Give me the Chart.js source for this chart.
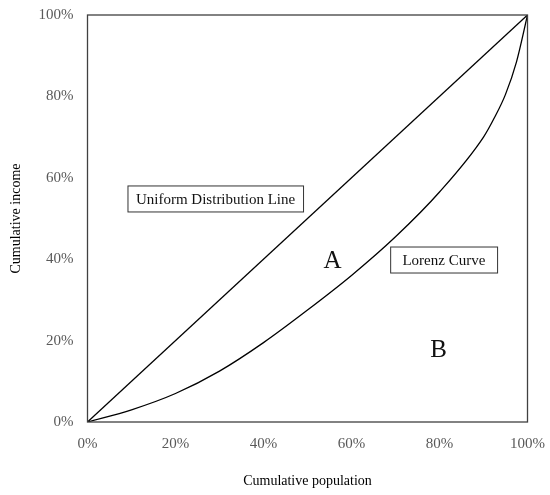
<!DOCTYPE html>
<html>
<head>
<meta charset="utf-8">
<script src="https://cdn.jsdelivr.net/npm/chart.js@4"></script>
<style>
  html, body { margin: 0; padding: 0; background: #fff; }
  #wrap { width: 550px; height: 495px; }
</style>
</head>
<body>
<div id="wrap"><canvas id="lorenz"></canvas></div>
<script>
// cumulative population share (%) and the matching cumulative income share (%)
const population = [0, 10, 20, 30, 40, 50, 60, 70, 80, 90, 92.5, 95, 97.5, 100];
const lorenzIncome = [0, 3, 7, 12.5, 19.5, 27.5, 36, 45.5, 56.5, 70, 74.8, 80.5, 88.5, 100];
const uniformX = [0, 100];
const uniformY = [0, 100];
const tickValues = [0, 20, 40, 60, 80, 100];

// text labels placed in data units
const boxLabels = [
    { text: 'Uniform Distribution Line', x: 29.1, y: 54.8, x0: 9.2, x1: 49.1 },
    { text: 'Lorenz Curve', x: 81, y: 39.8, x0: 68.9, x1: 93.2 },
];
const letters = [
    { text: 'A', x: 55.7, y: 39.6 },
    { text: 'B', x: 79.8, y: 17.8 },
];

const serif = "'Liberation Serif', 'Times New Roman', serif";

const frame = {
    id: 'frame',
    afterDraw(chart) {
        const { ctx, chartArea: a, scales } = chart;
        ctx.save();
        ctx.strokeStyle = '#404040';
        ctx.lineWidth = 1.3;
        ctx.strokeRect(a.left, a.top, a.right - a.left, a.bottom - a.top);

        ctx.font = '15px ' + serif;
        ctx.textAlign = 'center';
        ctx.textBaseline = 'middle';
        boxLabels.forEach(b => {
            const cx = scales.x.getPixelForValue(b.x);
            const cy = scales.y.getPixelForValue(b.y);
            const l = scales.x.getPixelForValue(b.x0);
            const r = scales.x.getPixelForValue(b.x1);
            ctx.fillStyle = '#fff';
            ctx.fillRect(l, cy - 13, r - l, 26);
            ctx.strokeStyle = '#333';
            ctx.lineWidth = 1;
            ctx.strokeRect(l, cy - 13, r - l, 26);
            ctx.fillStyle = '#111';
            ctx.fillText(b.text, cx, cy + 1);
        });

        ctx.font = '25px ' + serif;
        letters.forEach(t => {
            ctx.fillStyle = '#111';
            ctx.fillText(t.text, scales.x.getPixelForValue(t.x), scales.y.getPixelForValue(t.y) + 1);
        });
        ctx.restore();
    }
};

new Chart(document.getElementById('lorenz'), {
    type: 'line',
    data: {
        datasets: [
            {
                label: 'Uniform Distribution Line',
                data: uniformX.map((v, i) => ({ x: v, y: uniformY[i] })),
                borderColor: '#000',
                borderWidth: 1.3,
                pointRadius: 0,
                tension: 0,
            },
            {
                label: 'Lorenz Curve',
                data: population.map((v, i) => ({ x: v, y: lorenzIncome[i] })),
                borderColor: '#000',
                borderWidth: 1.3,
                pointRadius: 0,
                cubicInterpolationMode: 'monotone',
            },
        ],
    },
    options: {
        responsive: true,
        maintainAspectRatio: false,
        animation: false,
        layout: { padding: { top: 9, right: 19, left: 0, bottom: 0 } },
        plugins: {
            legend: { display: false },
            tooltip: { enabled: false },
        },
        scales: {
            x: {
                type: 'linear',
                min: 0,
                max: 100,
                afterBuildTicks: s => { s.ticks = tickValues.map(v => ({ value: v })); },
                afterFit: s => { s.height = 73; },
                grid: { display: false },
                border: { display: false },
                ticks: {
                    padding: 5,
                    color: '#595959',
                    font: { family: serif, size: 15 },
                    callback: v => v + '%',
                },
                title: {
                    display: true,
                    text: 'Cumulative population',
                    color: '#000',
                    font: { family: serif, size: 14 },
                    padding: { top: 0, bottom: 5 },
                },
            },
            y: {
                min: 0,
                max: 100,
                afterBuildTicks: s => { s.ticks = tickValues.map(v => ({ value: v })); },
                afterFit: s => { s.width = 87.5; },
                grid: { display: false },
                border: { display: false },
                ticks: {
                    padding: 6,
                    color: '#595959',
                    font: { family: serif, size: 15 },
                    callback: v => v + '%',
                },
                title: {
                    display: true,
                    text: 'Cumulative income',
                    color: '#000',
                    font: { family: serif, size: 14 },
                    padding: { top: 8, bottom: 0 },
                },
            },
        },
    },
    plugins: [frame],
});
</script>
</body>
</html>
